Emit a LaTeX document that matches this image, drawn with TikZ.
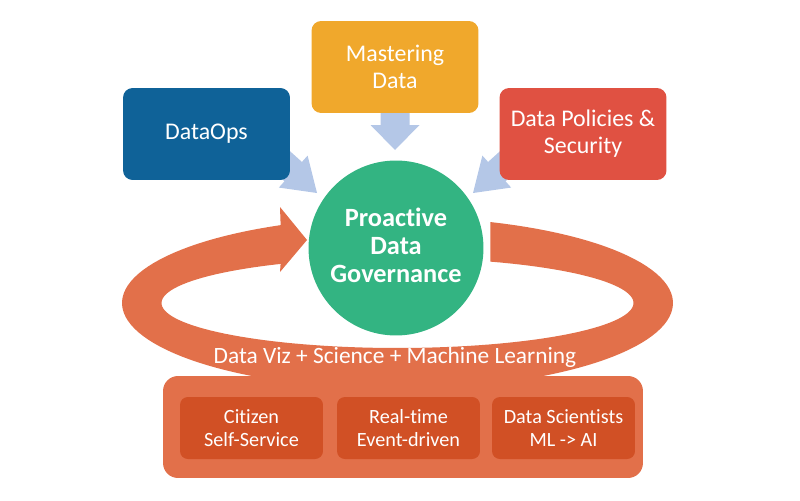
\documentclass[tikz,border=0pt]{standalone}
\usepackage{fontspec}
\setmainfont{Carlito}[Ligatures={NoCommon}]
\definecolor{opsblue}{HTML}{0F6298}
\definecolor{mastyel}{HTML}{F0A82C}
\definecolor{polred}{HTML}{E05142}
\definecolor{govgreen}{HTML}{33B482}
\definecolor{arrowblue}{HTML}{B4C7E7}
\definecolor{ringorange}{HTML}{E2704A}
\definecolor{innerorange}{HTML}{D15025}
\begin{document}
\begin{tikzpicture}[x=0.02cm,y=-0.02cm,
  topbox/.style={rounded corners=5.5pt, minimum width=3.34cm, minimum height=1.84cm,
    align=center, text=white, inner sep=0pt, font=\fontsize{13.6}{15.4}\selectfont},
  innerbox/.style={fill=innerorange, rounded corners=4.5pt, minimum width=2.86cm,
    minimum height=1.24cm, align=center, text=white, inner sep=0pt,
    font=\fontsize{11.5}{13}\selectfont},
  blockarrow/.style={fill=arrowblue},
  ringstyle/.style={fill=ringorange}]
\useasboundingbox (0,0) rectangle (800,500);

% ring arrow
\fill[ringstyle] plot[domain=-70.3:244.9, samples=120] ({397.5+275.5*cos(\x)},{303+86*sin(\x)})
  -- (280,207) -- (307,240) -- (280,272)
  -- plot[domain=240.3:-66.8, samples=120] ({397.5+236*cos(\x)},{303+45*sin(\x)}) -- cycle;

% block arrows
\coordinate (tipL) at (317,193);
\coordinate (tipM) at (395,150);
\coordinate (tipR) at (473,193);
\fill[blockarrow, shift={(tipL)}, rotate=-42] (0,0) -- (-32,21.5) -- (-32,13) -- (-75,13) -- (-75,-13) -- (-32,-13) -- (-32,-21.5) -- cycle;
\fill[blockarrow, shift={(tipR)}, rotate=-138] (0,0) -- (-32,21.5) -- (-32,13) -- (-75,13) -- (-75,-13) -- (-32,-13) -- (-32,-21.5) -- cycle;
\fill[blockarrow, shift={(tipM)}, rotate=-90] (0,0) -- (-25,24.5) -- (-25,14.5) -- (-50,14.5) -- (-50,-14.5) -- (-25,-14.5) -- (-25,-24.5) -- cycle;

% top boxes
\node[topbox, fill=opsblue] (ops) at (206.5,134) {DataOps};
\node[topbox, fill=mastyel] (mast) at (395,67) {Mastering\\Data};
\node[topbox, fill=polred] (pol) at (583,134) {Data Policies \&\\Security};

% central circle
\node[circle, fill=govgreen, minimum size=3.5cm, inner sep=0pt] (gov) at (396,248) {};
\node[align=center, text=white, font=\fontsize{15}{15.9}\selectfont\bfseries] (govtext) at (396,245) {Proactive\\Data\\Governance};

% ring label
\node[text=white, font=\fontsize{13.3}{15}\selectfont] (ringlabel) at (395,357) {Data Viz + Science + Machine Learning};

% bottom box
\node[fill=ringorange, rounded corners=8.5pt, minimum width=9.6cm, minimum height=2.04cm, inner sep=0pt] (base) at (403,427) {};
\node[innerbox] (cit) at (251.5,428) {Citizen\\Self-Service};
\node[innerbox] (rt) at (408.5,428) {Real-time\\Event-driven};
\node[innerbox] (ds) at (563.5,428) {Data Scientists\\ML -> AI};
\end{tikzpicture}
\end{document}
